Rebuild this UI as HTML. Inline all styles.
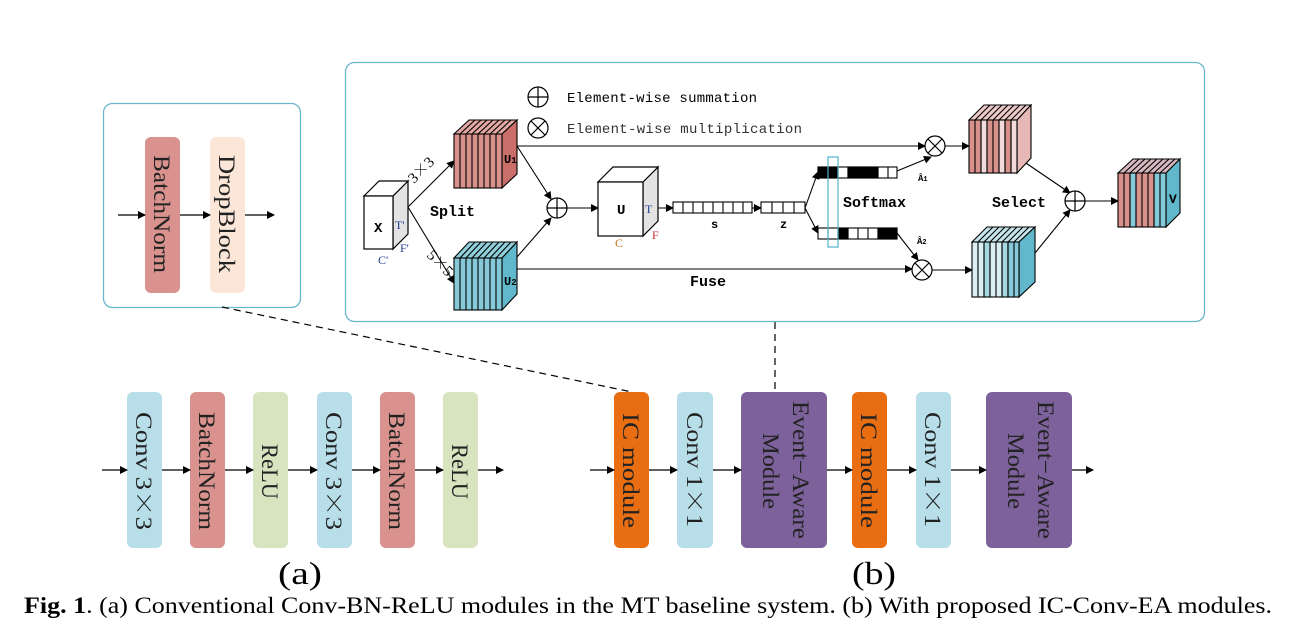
<!DOCTYPE html>
<html><head><meta charset="utf-8"><style>
body{margin:0;background:#fff;width:1291px;height:638px;overflow:hidden}
svg{display:block}
.m{font-family:"Liberation Mono","DejaVu Sans Mono",monospace}
.s{font-family:"Liberation Serif","Noto Serif CJK SC",serif}
.b{font-family:"Liberation Mono",monospace;font-weight:bold}
</style></head><body>
<svg width="1291" height="638" viewBox="0 0 1291 638" xmlns="http://www.w3.org/2000/svg">
<defs>
<marker id="a" markerWidth="8" markerHeight="8" refX="7" refY="4" orient="auto" markerUnits="userSpaceOnUse"><path d="M0,0 L8,4 L0,8 z" fill="#000"/></marker>
</defs>
<rect x="103.5" y="103.5" width="197" height="204" rx="9" fill="none" stroke="#6bb7cc" stroke-width="1.3"/>
<rect x="145" y="137" width="35" height="156" rx="6" fill="#d9928e"/>
<rect x="210" y="137" width="35" height="156" rx="6" fill="#fbe6d7"/>
<g class="s" font-size="23" fill="#222">
<text transform="translate(154,155) rotate(90)" textLength="118" lengthAdjust="spacingAndGlyphs">BatchNorm</text>
<text transform="translate(219,155) rotate(90)" textLength="118" lengthAdjust="spacingAndGlyphs">DropBlock</text>
</g>
<g stroke="#000" stroke-width="1.2" marker-end="url(#a)">
<line x1="118" y1="215" x2="145" y2="215"/><line x1="180" y1="215" x2="210" y2="215"/><line x1="245" y1="215" x2="274" y2="215"/>
</g>
<g stroke="#000" stroke-width="1.2" stroke-dasharray="7,5" fill="none">
<line x1="222" y1="307" x2="632" y2="392"/><line x1="775" y1="322" x2="775" y2="392"/>
</g>
<rect x="345.5" y="62.5" width="859" height="259" rx="9" fill="none" stroke="#6bb7cc" stroke-width="1.3"/>
<g stroke="#000" stroke-width="1.2" fill="#fff">
<circle cx="538" cy="97" r="10"/><line x1="528" y1="97" x2="548" y2="97"/><line x1="538" y1="87" x2="538" y2="107"/>
<circle cx="538" cy="128" r="10"/><line x1="531" y1="121" x2="545" y2="135"/><line x1="545" y1="121" x2="531" y2="135"/>
</g>
<text class="m" x="567" y="102" font-size="14" textLength="190">Element-wise summation</text>
<text class="m" x="567" y="133" font-size="14" fill="#333" textLength="235">Element-wise multiplication</text>
<g stroke="#000" stroke-width="1.2">
<polygon points="393,196 408,181 408,234 393,249" fill="#e3e3e3"/>
<polygon points="364,196 379,181 408,181 393,196" fill="#fff"/>
<rect x="364" y="196" width="29" height="53" fill="#fff"/>
</g>
<text class="b" x="374" y="232" font-size="14">X</text>
<text class="s" x="395" y="229" font-size="12" fill="#1f3f8f">T'</text>
<text class="s" x="400" y="252" font-size="12" fill="#1f3f8f">F'</text>
<text class="s" x="378" y="264" font-size="12" fill="#1f3f8f">C'</text>
<g stroke="#000" stroke-width="1.1">
<polygon points="454,134 469,120 517,120 502,134" fill="#e4a8a4"/>
<polygon points="502,134 517,120 517,174 502,188" fill="#c96e68"/>
<rect x="454" y="134" width="48" height="54" fill="#d9918c"/>
<path d="M460,134V188M466,134V188M472,134V188M478,134V188M484,134V188M490,134V188M496,134V188M460,134L475,120M466,134L481,120M472,134L487,120M478,134L493,120M484,134L499,120M490,134L505,120M496,134L511,120" fill="none"/>
</g>
<text class="b" x="504" y="163" font-size="12">U<tspan font-size="9">1</tspan></text>
<g stroke="#000" stroke-width="1.1">
<polygon points="454,258 469,242 517,242 502,258" fill="#8fcfdc"/>
<polygon points="502,258 517,242 517,294 502,310" fill="#62b8cb"/>
<rect x="454" y="258" width="48" height="52" fill="#86c9d8"/>
<path d="M460,258V310M466,258V310M472,258V310M478,258V310M484,258V310M490,258V310M496,258V310M460,258L475,242M466,258L481,242M472,258L487,242M478,258L493,242M484,258L499,242M490,258L505,242M496,258L511,242" fill="none"/>
</g>
<text class="b" x="504" y="285" font-size="12">U<tspan font-size="9">2</tspan></text>
<g stroke="#000" stroke-width="1.1" fill="none" marker-end="url(#a)">
<line x1="408" y1="207" x2="454" y2="161"/>
<line x1="408" y1="207" x2="454" y2="283"/>
<line x1="517" y1="146" x2="551" y2="199"/>
<line x1="517" y1="257" x2="551" y2="218"/>
<line x1="567" y1="208" x2="598" y2="208"/>
<line x1="643" y1="208" x2="673" y2="208"/>
<line x1="752" y1="208" x2="761" y2="208"/>
<line x1="517" y1="146" x2="925" y2="146"/>
<line x1="517" y1="269" x2="912" y2="269"/>
<line x1="805" y1="208" x2="818" y2="172" marker-end=""/>
<line x1="805" y1="208" x2="818" y2="233"/>
<line x1="897" y1="171" x2="931" y2="157"/>
<line x1="897" y1="233" x2="918" y2="260"/>
<line x1="945" y1="146" x2="969" y2="146"/>
<line x1="932" y1="270" x2="972" y2="270"/>
<line x1="1017" y1="157" x2="1070" y2="193"/>
<line x1="1035" y1="253" x2="1070" y2="210"/>
<line x1="1085" y1="201" x2="1118" y2="201"/>
</g>
<g stroke="#000" stroke-width="1.2" fill="#fff">
<circle cx="557" cy="208" r="10"/><line x1="547" y1="208" x2="567" y2="208"/><line x1="557" y1="198" x2="557" y2="218"/>
<circle cx="1075" cy="201" r="10"/><line x1="1065" y1="201" x2="1085" y2="201"/><line x1="1075" y1="191" x2="1075" y2="211"/>
<circle cx="935" cy="146" r="10"/><line x1="928" y1="139" x2="942" y2="153"/><line x1="942" y1="139" x2="928" y2="153"/>
<circle cx="922" cy="270" r="10"/><line x1="915" y1="263" x2="929" y2="277"/><line x1="929" y1="263" x2="915" y2="277"/>
</g>
<text class="s" transform="translate(414,184) rotate(-45)" font-size="15">3<tspan font-family="Noto Serif CJK SC">×</tspan>3</text>
<text class="s" transform="translate(426,256) rotate(45)" font-size="15">5<tspan font-family="Noto Serif CJK SC">×</tspan>5</text>
<text class="b" x="430" y="216" font-size="15">Split</text>
<text class="b" x="690" y="286" font-size="15">Fuse</text>
<g stroke="#000" stroke-width="1.2">
<polygon points="643,182 658,167 658,221 643,236" fill="#e3e3e3"/>
<polygon points="598,182 613,167 658,167 643,182" fill="#fff"/>
<rect x="598" y="182" width="45" height="54" fill="#fff"/>
</g>
<text class="b" x="617" y="214" font-size="14">U</text>
<text class="s" x="645" y="213" font-size="12" fill="#1f3f8f">T</text>
<text class="s" x="652" y="239" font-size="12" fill="#c03030">F</text>
<text class="s" x="615" y="247" font-size="12" fill="#c07020">C</text>
<g stroke="#000" stroke-width="1.1" fill="#fff">
<rect x="673" y="202" width="79" height="11"/>
<path d="M683,202V213M693,202V213M703,202V213M713,202V213M723,202V213M733,202V213M743,202V213"/>
<rect x="761" y="202" width="44" height="11"/>
<path d="M772,202V213M783,202V213M794,202V213"/>
</g>
<text class="b" x="711" y="228" font-size="12">s</text>
<text class="b" x="780" y="228" font-size="12">z</text>
<g stroke="#000" stroke-width="1.1">
<rect x="818" y="167" width="79" height="11" fill="#fff"/>
<rect x="818" y="167" width="20" height="11" fill="#000"/>
<rect x="848" y="167" width="30" height="11" fill="#000"/>
<path d="M828,167V178M838,167V178M848,167V178M878,167V178M888,167V178" fill="none"/>
<rect x="818" y="228" width="79" height="11" fill="#fff"/>
<rect x="838" y="228" width="10" height="11" fill="#000"/>
<rect x="878" y="228" width="19" height="11" fill="#000"/>
<path d="M828,228V239M838,228V239M848,228V239M858,228V239M868,228V239M878,228V239" fill="none"/>
</g>
<rect x="828" y="157" width="10" height="90" fill="none" stroke="#4fb3cc" stroke-width="1.2"/>
<text class="b" x="843" y="207" font-size="15">Softmax</text>
<text class="b" x="992" y="207" font-size="15">Select</text>
<text class="b" x="918" y="181" font-size="9">Â<tspan font-size="7">1</tspan></text>
<text class="b" x="917" y="244" font-size="9">Â<tspan font-size="7">2</tspan></text>
<g stroke="#000" stroke-width="1.1">
<polygon points="969,120 984,105 1031,105 1017,120" fill="#eccac8"/>
<polygon points="1017,120 1031,105 1031,158 1017,173" fill="#e6b8b6"/>
<rect x="969" y="120" width="48" height="53" fill="#d9918c"/>
<rect x="981" y="120" width="6" height="53" fill="#f2dcdb"/>
<rect x="999" y="120" width="6" height="53" fill="#f2dcdb"/>
<rect x="1011" y="120" width="6" height="53" fill="#f2dcdb"/>
<path d="M975,120V173M981,120V173M987,120V173M993,120V173M999,120V173M1005,120V173M1011,120V173M975,120L990,105M981,120L996,105M987,120L1002,105M993,120L1008,105M999,120L1014,105M1005,120L1020,105M1011,120L1026,105" fill="none"/>
</g>
<g stroke="#000" stroke-width="1.1">
<polygon points="972,242 987,227 1035,227 1019,242" fill="#c6e6ee"/>
<polygon points="1019,242 1035,227 1035,282 1019,297" fill="#62b8cb"/>
<rect x="972" y="242" width="47" height="55" fill="#daeef3"/>
<rect x="984" y="242" width="6" height="55" fill="#a6d8e3"/>
<rect x="1002" y="242" width="6" height="55" fill="#a6d8e3"/>
<rect x="1008" y="242" width="11" height="55" fill="#86c9d8"/>
<path d="M978,242V297M984,242V297M990,242V297M996,242V297M1002,242V297M1008,242V297M1014,242V297M978,242L993,227M984,242L999,227M990,242L1005,227M996,242L1011,227M1002,242L1017,227M1008,242L1023,227M1014,242L1029,227" fill="none"/>
</g>
<g stroke="#000" stroke-width="1.1">
<polygon points="1118,173 1133,159 1180,159 1166,173" fill="#d8b8c0"/>
<polygon points="1166,173 1180,159 1180,213 1166,227" fill="#62b8cb"/>
<rect x="1118" y="173" width="48" height="54" fill="#d9918c"/>
<rect x="1130" y="173" width="6" height="54" fill="#86c9d8"/>
<rect x="1154" y="173" width="12" height="54" fill="#86c9d8"/>
<path d="M1124,173V227M1130,173V227M1136,173V227M1142,173V227M1148,173V227M1154,173V227M1160,173V227M1124,173L1139,159M1130,173L1145,159M1136,173L1151,159M1142,173L1157,159M1148,173L1163,159M1154,173L1169,159M1160,173L1175,159" fill="none"/>
</g>
<text class="b" x="1169" y="203" font-size="13">V</text>
<g>
<rect x="127" y="392" width="35" height="156" rx="6" fill="#b8dfe9"/>
<rect x="190" y="392" width="35" height="156" rx="6" fill="#d9928e"/>
<rect x="253" y="392" width="35" height="156" rx="6" fill="#d8e4c0"/>
<rect x="317" y="392" width="35" height="156" rx="6" fill="#b8dfe9"/>
<rect x="380" y="392" width="35" height="156" rx="6" fill="#d9928e"/>
<rect x="443" y="392" width="35" height="156" rx="6" fill="#d8e4c0"/>
<rect x="614" y="392" width="35" height="156" rx="6" fill="#e96e12"/>
<rect x="677" y="392" width="36" height="156" rx="6" fill="#b8dfe9"/>
<rect x="741" y="392" width="86" height="156" rx="6" fill="#7d619b"/>
<rect x="852" y="392" width="35" height="156" rx="6" fill="#e96e12"/>
<rect x="916" y="392" width="35" height="156" rx="6" fill="#b8dfe9"/>
<rect x="986" y="392" width="86" height="156" rx="6" fill="#7d619b"/>
</g>
<g class="s" font-size="23" fill="#222">
<text transform="translate(136,412) rotate(90)" textLength="118" lengthAdjust="spacingAndGlyphs">Conv  3<tspan font-family="Noto Serif CJK SC">×</tspan>3</text>
<text transform="translate(199,412) rotate(90)" textLength="118" lengthAdjust="spacingAndGlyphs">BatchNorm</text>
<text transform="translate(262,444) rotate(90)" textLength="55" lengthAdjust="spacingAndGlyphs">ReLU</text>
<text transform="translate(326,412) rotate(90)" textLength="118" lengthAdjust="spacingAndGlyphs">Conv  3<tspan font-family="Noto Serif CJK SC">×</tspan>3</text>
<text transform="translate(389,412) rotate(90)" textLength="118" lengthAdjust="spacingAndGlyphs">BatchNorm</text>
<text transform="translate(452,444) rotate(90)" textLength="55" lengthAdjust="spacingAndGlyphs">ReLU</text>
<text transform="translate(623,413) rotate(90)" textLength="115" lengthAdjust="spacingAndGlyphs">IC module</text>
<text transform="translate(687,412) rotate(90)" textLength="115" lengthAdjust="spacingAndGlyphs">Conv  1<tspan font-family="Noto Serif CJK SC">×</tspan>1</text>
<text transform="translate(793,401) rotate(90)" textLength="138" lengthAdjust="spacingAndGlyphs">Event−Aware</text>
<text transform="translate(763,433) rotate(90)" textLength="76" lengthAdjust="spacingAndGlyphs">Module</text>
<text transform="translate(861,413) rotate(90)" textLength="115" lengthAdjust="spacingAndGlyphs">IC module</text>
<text transform="translate(925,412) rotate(90)" textLength="115" lengthAdjust="spacingAndGlyphs">Conv  1<tspan font-family="Noto Serif CJK SC">×</tspan>1</text>
<text transform="translate(1038,401) rotate(90)" textLength="138" lengthAdjust="spacingAndGlyphs">Event−Aware</text>
<text transform="translate(1008,433) rotate(90)" textLength="76" lengthAdjust="spacingAndGlyphs">Module</text>
</g>
<g stroke="#000" stroke-width="1.2" marker-end="url(#a)">
<line x1="102" y1="470" x2="127" y2="470"/><line x1="162" y1="470" x2="190" y2="470"/><line x1="225" y1="470" x2="253" y2="470"/><line x1="288" y1="470" x2="317" y2="470"/><line x1="352" y1="470" x2="380" y2="470"/><line x1="415" y1="470" x2="443" y2="470"/><line x1="478" y1="470" x2="503" y2="470"/>
<line x1="590" y1="470" x2="614" y2="470"/><line x1="649" y1="470" x2="677" y2="470"/><line x1="713" y1="470" x2="741" y2="470"/><line x1="827" y1="470" x2="852" y2="470"/><line x1="887" y1="470" x2="916" y2="470"/><line x1="951" y1="470" x2="986" y2="470"/><line x1="1072" y1="470" x2="1093" y2="470"/>
</g>
<text class="s" x="278" y="584" font-size="32" textLength="44" lengthAdjust="spacingAndGlyphs">(a)</text>
<text class="s" x="852" y="584" font-size="32" textLength="44" lengthAdjust="spacingAndGlyphs">(b)</text>
<text class="s" x="24" y="613" font-size="23" textLength="1248" lengthAdjust="spacingAndGlyphs"><tspan font-weight="bold">Fig. 1</tspan>. (a) Conventional Conv-BN-ReLU modules in the MT baseline system. (b) With proposed IC-Conv-EA modules.</text>
</svg>
</body></html>
